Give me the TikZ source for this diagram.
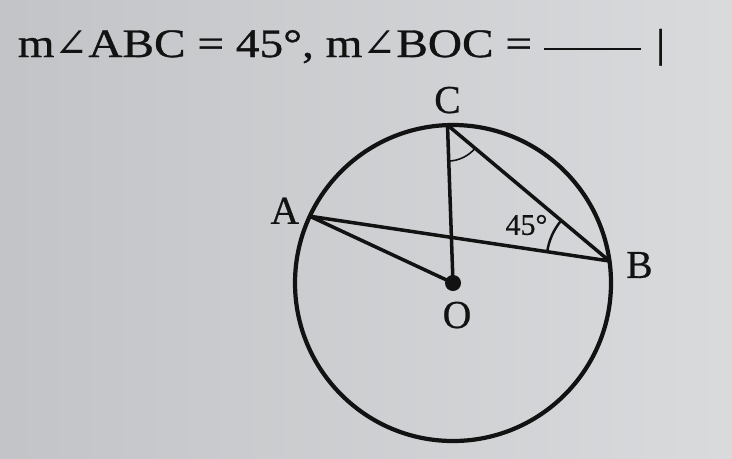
\documentclass[tikz,border=0pt]{standalone}
\usepackage{fontspec}
\setmainfont{Liberation Serif}[FakeBold=0.6]
\newfontfamily\widefont[FakeStretch=1.17, FakeBold=0.8]{Liberation Serif}
\newfontfamily\anglefont{DejaVu Serif}
\usetikzlibrary{positioning, angles}
\definecolor{paper}{RGB}{204,206,209}
\definecolor{ink}{RGB}{18,18,18}

\begin{document}
\begin{tikzpicture}[x=0.02cm, y=0.02cm, line width=2pt, line join=round, draw=ink, text=ink,
    lbl/.style={inner sep=0pt, font=\fontsize{22.5}{26}\selectfont}]
\fill[left color=paper!95!black, right color=paper!75!white] (0,0) rectangle (732,458);
\useasboundingbox (0,0) rectangle (732,458);

\node[anchor=base west, inner sep=0pt, font=\widefont\fontsize{23}{26}\selectfont] (question) at (16,401)
    {m{\anglefont ∠}ABC = 45°, m{\anglefont ∠}BOC = \raisebox{0.14cm}{\rule{1.94cm}{0.045cm}}\hspace{0.3cm}|};

\coordinate (O) at (453,175);
\coordinate (A) at ([shift={(155:158)}]O);
\coordinate (B) at ([shift={(8:158)}]O);
\coordinate (C) at ([shift={(92:158)}]O);

\draw[line width=2.4pt] (O) circle [radius=158];
\draw (C) -- (O);
\draw (C) -- (B) -- (A) -- (O);
\fill[ink] (O) circle [radius=8];

\pic[draw, line width=1.4pt, angle radius=1.26cm] {angle=C--B--A};
\pic[draw, line width=0.9pt, angle radius=0.72cm] {angle=O--C--B};

\node[lbl, above=0.2cm of C] (Clabel) {C};
\node[lbl, left=0.18cm of A, yshift=0.11cm] (Alabel) {A};
\node[lbl, right=0.3cm of B, yshift=-0.08cm] (Blabel) {B};
\node[lbl, below=0.34cm of O, xshift=0.08cm] (Olabel) {O};
\node[inner sep=0pt, font=\fontsize{17}{20}\selectfont] (angleB) at (526.5,233) {45°};
\end{tikzpicture}
\end{document}
